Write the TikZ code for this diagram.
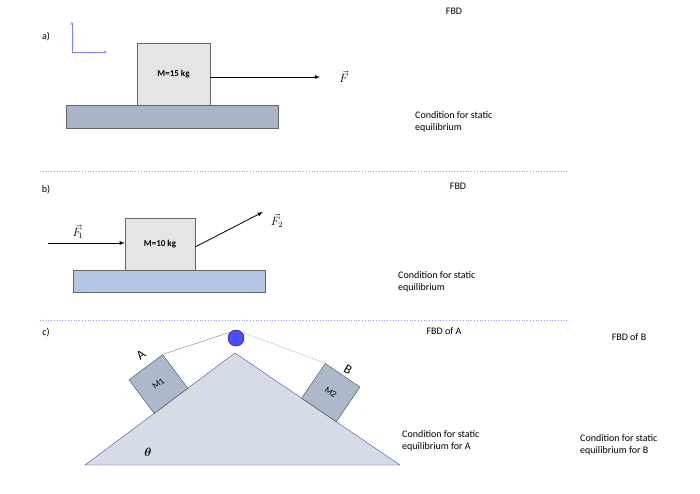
\documentclass[tikz,border=0pt]{standalone}
\usepackage{amsmath,bm}
\usepackage{fontspec}
\setmainfont{Carlito}
\definecolor{gA}{HTML}{A9B4C8}
\definecolor{gB}{HTML}{B4C7E7}
\definecolor{tri}{HTML}{D6DCE5}
\definecolor{blkc}{HTML}{ADB9CA}
\begin{document}
\begin{tikzpicture}[x=1pt,y=-1pt,font=\fontsize{10}{12}\selectfont,
 blk/.style={draw=black!60,fill=gray!20},
 arr/.style={-latex,thick},
 lbl/.style={anchor=west,align=left,inner sep=0},
 sep/.style={draw=blue!40,dotted,thick}]
\useasboundingbox (0,0) rectangle (700,493);
% a
\node (la) at (46,37) {a)};
\coordinate (o) at (72,52);
\coordinate (oy) at (72,22);
\coordinate (ox) at (107,52);
\draw[blue!50,-stealth] (o)--(oy); \draw[blue!50,-stealth] (o)--(ox);
\node[blk,minimum width=73,minimum height=62,inner sep=0,font=\fontsize{9}{10}\selectfont\bfseries] (m1) at (173.5,74) {M=15 kg};
\node[draw=black!60,fill=gA,minimum width=212,minimum height=23,inner sep=0] (g1) at (172,116.5) {};
\coordinate (fa) at (320,77);
\draw[arr] (m1.east|-fa) -- (fa);
\node[inner sep=0] (F) at (344,77) {\fontsize{12}{12}\selectfont$\vec F$};
\node (fbd1) at (454,11) {FBD};
\node[lbl] (c1) at (415,122) {Condition for static\\equilibrium};
\coordinate (s1a) at (40,171); \coordinate (s1b) at (568,171);
\draw[sep] (s1a)--(s1b);
% b
\node (lb) at (46,190) {b)};
\node[blk,minimum width=70,minimum height=52,inner sep=0,font=\fontsize{9}{10}\selectfont\bfseries] (m2) at (160,244) {M=10 kg};
\node[draw=black!60,fill=gB,minimum width=192,minimum height=22,inner sep=0] (g2) at (169,281) {};
\coordinate (f1s) at (48,243);
\draw[arr] (f1s) -- (m2.west|-f1s);
\node[inner sep=0] (F1) at (78,232) {\fontsize{12}{12}\selectfont$\vec F_{\!1}$};
\coordinate (f2s) at (195,247); \coordinate (f2e) at (263,212);
\draw[arr] (f2s) -- (f2e);
\node[inner sep=0] (F2) at (277,221) {\fontsize{12}{12}\selectfont$\vec F_{2}$};
\node (fbd2) at (458,186) {FBD};
\node[lbl] (c2) at (398,281.5) {Condition for static\\equilibrium};
\coordinate (s2a) at (40,320); \coordinate (s2b) at (568,320);
\draw[sep] (s2a)--(s2b);
% c
\node (lc) at (46,333) {c)};
\coordinate (t1) at (85,465); \coordinate (t2) at (235,353); \coordinate (t3) at (400,465);
\draw[blue!50!black!70,fill=tri] (t1)--(t2)--(t3)--cycle;
\node[draw=black!70,fill=blkc,minimum size=42,inner sep=0,rotate=36.7,font=\fontsize{9}{10}\selectfont] (A) at (158.4,384) {M1};
\node[draw=black!70,fill=blkc,minimum size=42,inner sep=0,rotate=-34.2,font=\fontsize{9}{10}\selectfont] (B) at (330.8,392.6) {M2};
\node[circle,draw=blue!60!black,fill=blue!70!white,minimum size=16,inner sep=0] (p) at (236,338) {};
\draw[gray] (p.north west) -- (A.north east);
\draw[blue!30] (p.north east) -- (B.north west);
\node[rotate=36.7,font=\fontsize{13}{14}\selectfont] (tA) at (141,355) {A};
\node[rotate=-30,font=\fontsize{13}{14}\selectfont] (tB) at (348,370) {B};
\node (th) at (148,452) {\fontsize{12}{12}\selectfont$\bm{\theta}$};
\node (fa1) at (444,331) {FBD of A};
\node (fb1) at (629,337) {FBD of B};
\node[lbl] (c3) at (402,441) {Condition for static\\equilibrium for A};
\node[lbl] (c4) at (580,444.5) {Condition for static\\equilibrium for B};
\end{tikzpicture}
\end{document}
